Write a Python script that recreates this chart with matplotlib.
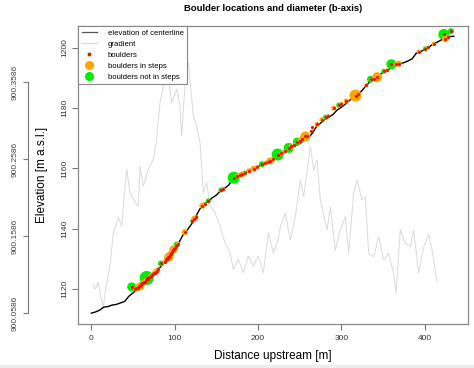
import matplotlib
matplotlib.use("Agg")
import matplotlib.pyplot as plt
from matplotlib.lines import Line2D
from matplotlib.patches import Rectangle

plt.rcParams['font.family'] = ['Liberation Sans', 'DejaVu Sans']

# ---------------- data ----------------
title = "Boulder locations and diameter (b-axis)"
xlabel = "Distance upstream [m]"
ylabel = "Elevation [m a.s.l.]"

x_ticks = [0, 100, 200, 300, 400]
y_ticks = [1120, 1140, 1160, 1180, 1200]
grad_ticks = [900.0586, 900.1586, 900.2586, 900.3586]
grad_tick_labels = ["900.0586", "900.1586", "900.2586", "900.3586"]

# elevation of centerline
profile_dist = [0, 5, 10, 15, 20, 25, 30, 35, 40, 45, 50, 55, 60, 65, 70, 75, 80, 85,
                90, 95, 100, 105, 110, 115, 120, 125, 130, 135, 140, 145, 150, 155,
                160, 165, 170, 175, 180, 185, 190, 195, 200, 205, 210, 215, 220, 225,
                230, 235, 240, 245, 250, 255, 260, 265, 270, 275, 280, 285, 290, 295,
                300, 305, 310, 315, 320, 325, 330, 335, 340, 345, 350, 355, 360, 365,
                370, 375, 380, 385, 390, 395, 400, 405, 410, 415, 420, 425, 430, 435]
profile_elev = [1111.9, 1112.3, 1112.9, 1113.9, 1114.1, 1114.6, 1114.8, 1115.3, 1115.8,
                1117.5, 1118.6, 1120.0, 1121.2, 1122.3, 1123.5, 1125.0, 1126.4, 1127.8,
                1129.5, 1131.4, 1133.5, 1135.3, 1137.9, 1139.5, 1141.4, 1143.8, 1146.4,
                1148.3, 1149.0, 1150.2, 1151.1, 1152.6, 1153.4, 1154.5, 1156.6, 1157.5,
                1158.3, 1158.6, 1159.5, 1160.1, 1160.7, 1161.1, 1162.1, 1162.5, 1163.4,
                1164.5, 1165.0, 1166.1, 1166.7, 1167.6, 1168.2, 1169.3, 1170.0, 1171.6,
                1173.8, 1175.0, 1176.2, 1177.0, 1177.9, 1179.4, 1180.3, 1181.4, 1182.6,
                1183.7, 1184.5, 1185.9, 1187.6, 1189.0, 1189.8, 1190.9, 1191.9, 1192.5,
                1193.5, 1194.2, 1194.8, 1195.1, 1195.7, 1196.4, 1198.3, 1198.8, 1199.5,
                1200.2, 1201.3, 1201.9, 1202.7, 1203.1, 1203.8, 1203.9]

# gradient (secondary axis)
gradient_dist = [2.4, 4.4, 8.4, 10.4, 14.4, 16.4, 22.4, 26.4, 32.4, 36.4, 42.4, 46.4,
                 50.4, 56.4, 58.4, 62.4, 68.4, 74.4, 78.4, 82.4, 86.4, 90.4, 96.4, 102.4,
                 106.4, 108.4, 112.4, 116.4, 122.4, 126.4, 130.4, 134.4, 138.4, 142.4,
                 148.4, 154.4, 160.4, 166.4, 170.4, 176.4, 182.4, 188.4, 194.4, 200.4,
                 206.4, 212.4, 218.4, 224.4, 226.8, 232.8, 238.8, 244.8, 250.8, 254.8,
                 262.8, 266.8, 270.8, 274.8, 282.8, 286.8, 292.8, 298.8, 304.8, 308.8,
                 314.8, 318.8, 324.8, 328.8, 332.8, 338.8, 344.8, 350.8, 356.8, 362.8,
                 365.6, 370.8, 376.8, 382.8, 386.8, 392.8, 398.8, 404.8, 408.8, 414.8]
gradient_val = [900.0963, 900.0898, 900.0983, 900.0854, 900.0659, 900.0854, 900.1200,
                900.1633, 900.1828, 900.1720, 900.2456, 900.2152, 900.2067, 900.1980,
                900.2499, 900.2239, 900.2456, 900.2586, 900.2846, 900.3321, 900.3538,
                900.3798, 900.3321, 900.3495, 900.3278, 900.2889, 900.3560, 900.3841,
                900.3148, 900.3018, 900.2802, 900.2152, 900.2282, 900.1980, 900.1892,
                900.1720, 900.1503, 900.1373, 900.1157, 900.1287, 900.1113, 900.1330,
                900.1200, 900.1330, 900.1113, 900.1633, 900.1373, 900.1547, 900.1711,
                900.1885, 900.1538, 900.1841, 900.2317, 900.2100, 900.2750, 900.2447,
                900.2577, 900.2057, 900.1668, 900.1970, 900.1408, 900.1668, 900.1841,
                900.1365, 900.2144, 900.2317, 900.2057, 900.2100, 900.1365, 900.1321,
                900.1581, 900.1278, 900.1365, 900.1105, 900.0846, 900.1668, 900.1495,
                900.1451, 900.1668, 900.1105, 900.1451, 900.1603, 900.1408, 900.0996]

# boulders: distance, elevation, b-axis [m], in step (1) or not (0)
boulder_dist = [48.4, 52, 56, 58.4, 60, 62, 64, 66.4, 68, 70, 72, 74, 76, 78.4, 80, 83.6,
                88, 91, 93, 95, 97, 98.4, 100, 102.4, 104, 112, 121, 123.6, 126, 133.2,
                136, 140.4, 155.6, 158, 170.8, 175, 178, 180.8, 184, 189, 194.8, 199,
                204.8, 208, 212, 214.8, 218, 223.6, 228, 232, 236.8, 240, 243, 246.8,
                250, 253, 256.8, 259, 263, 265, 270.8, 276.8, 281, 284, 290.8, 296.8,
                300, 306, 317, 320, 330, 335, 339, 343, 351, 355, 360, 366, 368.8,
                392.8, 400.8, 404, 410.8, 423, 424.8, 428, 431.6,
                54, 57, 59, 61, 63, 65, 67, 69, 71, 73, 75, 77, 89, 90, 92, 94, 96, 99, 101]
boulder_elev = [1120.6, 1119.8, 1120.4, 1120.8, 1121.6, 1121.9, 1122.4, 1123.6, 1123.2,
                1123.8, 1124.4, 1124.9, 1125.3, 1125.8, 1126.6, 1128.4, 1129.0, 1130.0,
                1130.6, 1131.4, 1132.3, 1133.0, 1133.6, 1134.7, 1135.0, 1138.8, 1142.5,
                1143.3, 1143.8, 1147.6, 1148.2, 1149.2, 1152.8, 1153.2, 1156.9, 1157.5,
                1157.9, 1158.0, 1158.6, 1159.2, 1159.9, 1160.5, 1161.4, 1161.7, 1162.2,
                1162.5, 1163.0, 1164.6, 1165.0, 1165.7, 1166.8, 1167.3, 1167.8, 1168.9,
                1169.2, 1169.8, 1170.6, 1170.8, 1172.4, 1173.6, 1174.6, 1176.2, 1177.0,
                1177.4, 1180.0, 1181.0, 1181.5, 1182.4, 1184.2, 1184.8, 1187.6, 1189.6,
                1189.8, 1190.3, 1192.3, 1192.6, 1194.6, 1194.6, 1194.8, 1198.8, 1199.7,
                1200.2, 1201.4, 1204.5, 1203.1, 1203.6, 1205.6,
                1120.2, 1121.0, 1121.3, 1121.9, 1122.4, 1122.9, 1123.5, 1123.8, 1124.4,
                1124.7, 1125.3, 1125.7, 1129.4, 1129.8, 1130.5, 1131.2, 1132.0, 1133.2,
                1134.1]
boulder_b = [0.9, 0.4, 0.7, 0.8, 0.5, 0.6, 0.4, 1.4, 0.4, 0.5, 0.4, 0.4, 0.5, 0.6, 0.4,
             0.6, 0.4, 0.6, 0.9, 0.7, 0.6, 0.8, 0.6, 0.6, 0.4, 0.6, 0.4, 0.6, 0.4, 0.6,
             0.4, 0.5, 0.5, 0.4, 1.2, 0.4, 0.4, 0.6, 0.4, 0.5, 0.6, 0.4, 0.6, 0.4, 0.5,
             0.7, 0.4, 1.2, 0.4, 0.4, 1.0, 0.5, 0.4, 0.8, 0.5, 0.6, 1.0, 0.6, 0.2, 0.2,
             0.5, 0.5, 0.5, 0.4, 0.5, 0.5, 0.4, 0.5, 1.2, 0.4, 0.4, 0.7, 0.4, 1.0, 0.5,
             0.4, 1.0, 0.5, 0.6, 0.4, 0.5, 0.3, 0.4, 1.1, 0.7, 0.4, 0.6,
             0.3, 0.4, 0.3, 0.4, 0.3, 0.4, 0.3, 0.3, 0.4, 0.3, 0.3, 0.3, 0.4, 0.3, 0.5,
             0.4, 0.5, 0.4, 0.3]
boulder_step = [0, 1, 1, 1, 1, 1, 1, 0, 1, 1, 1, 1, 1, 1, 1, 0, 1, 1, 1, 1, 1, 1, 1, 0,
                1, 1, 0, 1, 0, 1, 1, 0, 0, 1, 0, 1, 1, 1, 0, 1, 1, 1, 0, 1, 1, 1, 1, 0,
                1, 1, 0, 1, 1, 0, 1, 1, 1, 1, 1, 1, 1, 1, 0, 1, 1, 0, 1, 1, 1, 1, 1, 0,
                1, 1, 0, 1, 0, 1, 1, 1, 0, 1, 1, 0, 1, 1, 0,
                1, 1, 1, 1, 1, 1, 1, 1, 1, 1, 1, 1, 1, 1, 1, 1, 1, 1, 1]

# ---------------- figure ----------------
W, H = 474, 368
fig = plt.figure(figsize=(W / 100, H / 100), dpi=100)
fig.patches.append(Rectangle((0, 0), 1, 3 / H, transform=fig.transFigure,
                             color='#eeeeee', zorder=0))

L, R, T, B = 78, 468, 26, 324
pos = [L / W, 1 - B / H, (R - L) / W, (B - T) / H]
xlim = (-16, 452)

# secondary (gradient) axis, drawn first so it is underneath
ax2 = fig.add_axes(pos)
ax2.patch.set_visible(False)
ax2.plot(gradient_dist, gradient_val, color='#dadada', lw=0.7)
ax2.set_xlim(*xlim)
ax2.set_ylim(900.0447, 900.4317)
for s in ['top', 'right', 'bottom']:
    ax2.spines[s].set_visible(False)
ax2.spines['left'].set_position(('outward', 50 * 0.72))
ax2.spines['left'].set_bounds(grad_ticks[0], grad_ticks[-1])
ax2.spines['left'].set_color('#777777')
ax2.spines['left'].set_linewidth(0.8)
ax2.set_xticks([])
ax2.set_yticks(grad_ticks)
ax2.set_yticklabels(grad_tick_labels, rotation=90, va='center', fontsize=6,
                    color='#444444')
ax2.tick_params(axis='y', length=3.5, width=0.8, color='#777777', pad=3)

# main axis
ax = fig.add_axes(pos)
ax.patch.set_visible(False)
ax.plot(profile_dist, profile_elev, color='black', lw=1.0, zorder=3)

green_x = [d for d, s in zip(boulder_dist, boulder_step) if s == 0]
green_y = [e for e, s in zip(boulder_elev, boulder_step) if s == 0]
green_b = [b for b, s in zip(boulder_b, boulder_step) if s == 0]
orange_x = [d for d, s in zip(boulder_dist, boulder_step) if s == 1]
orange_y = [e for e, s in zip(boulder_elev, boulder_step) if s == 1]
orange_b = [b for b, s in zip(boulder_b, boulder_step) if s == 1]

def size(b):
    r_px = b * 5.0
    return (2 * r_px * 0.72) ** 2

ax.scatter(green_x, green_y, s=[size(b) for b in green_b], color='#00ee00',
           lw=0, zorder=4)
ax.scatter(orange_x, orange_y, s=[size(b) for b in orange_b], color='#ffa500',
           lw=0, zorder=5)
ax.scatter(boulder_dist, boulder_elev, s=5, color='#ee1100', lw=0, zorder=6)

ax.set_xlim(*xlim)
ax.set_ylim(1108.3, 1207.3)
ax.set_xticks(x_ticks)
ax.set_yticks(y_ticks)
ax.set_xticklabels([str(v) for v in x_ticks], fontsize=6, color='#333333')
ax.set_yticklabels([str(v) for v in y_ticks], rotation=90, va='center',
                   fontsize=6, color='#333333')
ax.tick_params(axis='both', length=4, width=0.8, color='#777777')
ax.tick_params(axis='x', pad=4)
ax.tick_params(axis='y', pad=3)
for s in ax.spines.values():
    s.set_color('#888888')
    s.set_linewidth(0.9)

handles = [
    Line2D([], [], color='#555555', lw=0.9),
    Line2D([], [], color='#dadada', lw=0.9),
    Line2D([], [], color='#cc2200', marker='o', ls='', markersize=1.8),
    Line2D([], [], color='#ffa500', marker='o', ls='', markersize=5.5),
    Line2D([], [], color='#00ee00', marker='o', ls='', markersize=5.5),
]
labels = ["elevation of centerline", "gradient", "boulders",
          "boulders in steps", "boulders not in steps"]
leg = ax.legend(handles, labels, loc='upper left', bbox_to_anchor=(0, 1),
                borderaxespad=0, fancybox=False, framealpha=1, edgecolor='#888888',
                fontsize=5.6, handlelength=2.0, handletextpad=1.4,
                labelspacing=0.45, borderpad=0.45)
leg.get_frame().set_linewidth(0.8)
leg.set_zorder(10)

fig.text(0.576, 1 - 8.5 / H, title, ha='center', va='center', fontsize=6.8,
         fontweight='bold')
fig.text(0.576, 1 - 356 / H, xlabel, ha='center', va='center', fontsize=8.5)
fig.text(42 / W, 1 - 175 / H, ylabel, ha='center', va='center', fontsize=8.5,
         rotation=90)

fig.savefig('out.png', dpi=100)
